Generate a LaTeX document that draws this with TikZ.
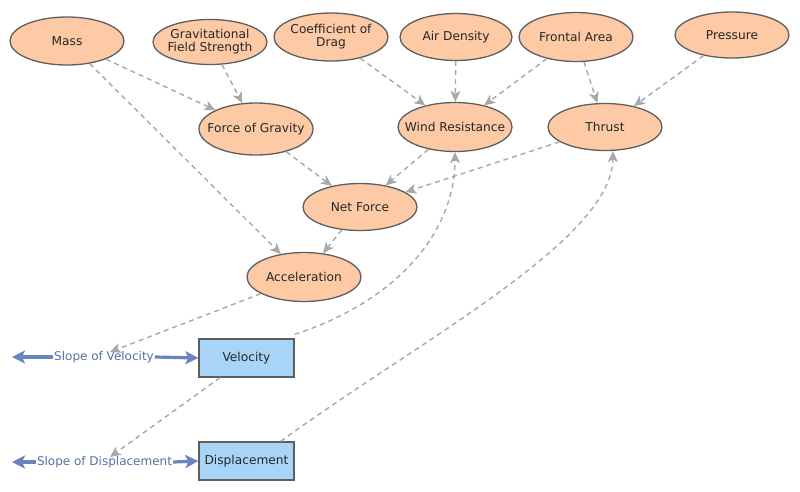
\documentclass[tikz,border=0pt]{standalone}
\usepackage{fontspec}
\setmainfont{DejaVu Sans}
\usetikzlibrary{shapes.geometric,arrows.meta}
\definecolor{peach}{HTML}{FDCAA5}
\definecolor{edgegray}{HTML}{5E5E5E}
\definecolor{linkgray}{HTML}{A8A8A8}
\definecolor{boxblue}{HTML}{A8D4F7}
\definecolor{flowblue}{HTML}{6A84BE}
\definecolor{flowtext}{HTML}{5A6EA6}
\begin{document}
\begin{tikzpicture}[x=1pt,y=-1pt,
  var/.style={ellipse,draw=edgegray,line width=1.3pt,fill=peach,minimum width=114pt,minimum height=48pt,inner xsep=-12pt,inner ysep=0pt,align=center,font=\fontsize{12.2}{13}\selectfont,text=black!85},
  stock/.style={rectangle,draw=edgegray,line width=1.3pt,fill=boxblue,minimum width=95pt,minimum height=38pt,inner sep=0pt,font=\fontsize{12.2}{14}\selectfont,text=black!85},
  link/.style={draw=linkgray,line width=1.4pt,dash pattern=on 5pt off 4pt,-{Stealth[length=11pt,width=10pt,inset=3pt,fill=linkgray]}},
  flow/.style={draw=flowblue,line width=3.2pt,-{Stealth[length=13pt,width=13pt,inset=3pt]}},
  flowlabel/.style={inner sep=1pt,text=flowtext,font=\fontsize{12}{14}\selectfont}]
\useasboundingbox (0,0) rectangle (800,491);
% nodes
\node[var] (mass) at (67,41) {Mass};
\node[var,minimum height=45pt] (gfs) at (210,42) {Gravitational\\Field Strength};
\node[var] (cod) at (331,37) {Coefficient of\\Drag};
\node[var,minimum width=112pt,minimum height=47pt] (air) at (456,37) {Air Density};
\node[var,minimum height=49pt] (front) at (576,37) {Frontal Area};
\node[var,minimum height=46pt] (press) at (732,35) {Pressure};
\node[var,minimum height=52pt] (fog) at (256,129) {Force of Gravity};
\node[var,minimum height=49pt] (wind) at (455,127) {Wind Resistance};
\node[var,minimum height=47pt] (thrust) at (605,127) {Thrust};
\node[var,minimum height=47pt] (net) at (360,207) {Net Force};
\node[var,minimum height=49pt] (acc) at (304,277) {Acceleration};
\node[stock] (vel) at (246.5,358) {Velocity};
\node[stock] (disp) at (246.5,461) {Displacement};
% flows
\node[flowlabel] (sv) at (104,357) {Slope of Velocity};
\node[flowlabel] (sd) at (104.5,462) {Slope of Displacement};
\coordinate (svend) at (12,357);
\coordinate (sdend) at (12,462);
\coordinate (svc) at (110,352);
\coordinate (sdc) at (110,457);
\draw[flow] (sv.west) -- (svend);
\draw[flow] (sv.east) -- (vel.west);
\draw[flow] (sd.west) -- (sdend);
\draw[flow] (sd.east) -- (disp.west);
% links
\draw[link] (mass) -- (fog);
\draw[link] (mass) -- (acc);
\draw[link] (gfs) -- (fog);
\draw[link] (cod) -- (wind);
\draw[link] (air) -- (wind);
\draw[link] (front) -- (wind);
\draw[link] (front) -- (thrust);
\draw[link] (press) -- (thrust);
\draw[link] (fog) -- (net);
\draw[link] (wind) -- (net);
\draw[link] (thrust) -- (net);
\draw[link] (net) -- (acc);
\draw[link] (acc) -- (svc);
\draw[link] ([xshift=-26.5pt]vel.south) -- (sdc);
\draw[link] ([yshift=4pt]vel.north east) .. controls (400,300) and (455,230) .. (wind.south);
\draw[link] ([xshift=-14pt]disp.north east) .. controls (420,340) and (612,240) .. ([xshift=8pt]thrust.south);
\end{tikzpicture}
\end{document}
